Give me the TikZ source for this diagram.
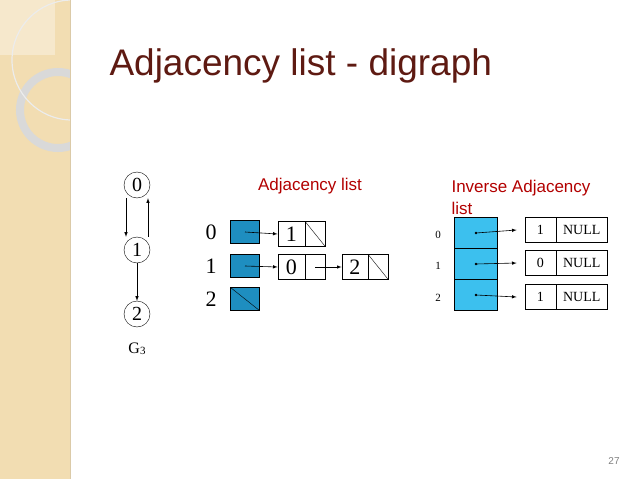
\documentclass[tikz,border=0pt]{standalone}
\usepackage{fontspec}
\setmainfont{Liberation Serif}
\newfontfamily\sansf{Liberation Sans}
\begin{document}
\begin{tikzpicture}[x=1pt,y=-1pt,
  vert/.style={draw,circle,minimum size=26pt,inner sep=0pt,font=\fontsize{20}{20}\selectfont},
  sq/.style={draw,fill=blue1,minimum width=29pt,minimum height=23pt,inner sep=0},
  cell/.style={draw,minimum height=25pt,inner sep=0,font=\fontsize{22}{22}\selectfont},
  icell/.style={draw,minimum height=25pt,inner sep=0,font=\fontsize{14}{14}\selectfont},
  lab/.style={font=\fontsize{22}{22}\selectfont},
  ilab/.style={font=\fontsize{11}{11}\selectfont},
  arr/.style={-latex,line width=0.6pt},
  red/.style={font=\sansf\fontsize{17}{17}\selectfont,text=red!70!black}]
\definecolor{blue1}{HTML}{1E8EC0}
\definecolor{blue2}{HTML}{3CC0EE}
\definecolor{tan}{HTML}{F2DDB2}
\definecolor{ttl}{HTML}{5E1A12}
\useasboundingbox (0,0) rectangle (638,479);
\fill[tan] (0,0) rectangle (70,479);
\begin{scope}
\clip (0,0) rectangle (70,479);
\fill[white,opacity=0.35] (0,0) rectangle (55,55);
\draw[gray!30,line width=8pt] (58,110) circle (38);
\draw[white!85!gray,line width=1.2pt] (72,60) circle (60);
\end{scope}
\draw[tan!80!gray,line width=0.8pt] (70,0) -- (70,479);
\node[anchor=base west,font=\sansf\fontsize{37}{37}\selectfont,text=ttl] (title) at (106,75) {Adjacency list - digraph};
% graph
\node[vert] (v0) at (137,185) {0};
\node[vert] (v1) at (137,250) {1};
\node[vert] (v2) at (137,314) {2};
\node[font=\fontsize{16}{16}\selectfont] (g) at (137,349) {G\raisebox{-0.2ex}{\fontsize{11}{11}\selectfont 3}};
\draw[arr] ([xshift=-11pt]v0.south) -- ([xshift=-11pt]v1.north);
\draw[arr] ([xshift=11pt]v1.north) -- ([xshift=11pt]v0.south);
\draw[arr] (v1) -- (v2);
% adjacency list
\node[red] (t1) at (310,186) {Adjacency list};
\node[lab] (l0) at (211,232) {0};
\node[lab] (l1) at (211,266) {1};
\node[lab] (l2) at (211,299) {2};
\node[sq] (s0) at (245,232) {};
\node[sq] (s1) at (245,266) {};
\node[sq] (s2) at (245,299) {};
\draw (s2.north west) -- (s2.south east);
\node[cell,minimum width=27pt,anchor=east] (a0) at (305,234) {1};
\node[cell,minimum width=20pt,anchor=west] (a0n) at (305,234) {};
\draw (a0n.north west) -- (a0n.south east);
\node[cell,minimum width=27pt,anchor=east] (a1) at (305,267) {0};
\node[cell,minimum width=20pt,anchor=west] (a1n) at (305,267) {};
\node[cell,minimum width=26pt,anchor=east] (b1) at (368,267) {2};
\node[cell,minimum width=20pt,anchor=west] (b1n) at (368,267) {};
\draw (b1n.north west) -- (b1n.south east);
\draw[arr] (s0.center) -- (a0.west);
\draw[arr] (s1.center) -- (a1.west);
\draw[arr] (a1n.center) -- (b1.west);
% inverse
\node[red,anchor=base west] (t2) at (448,192) {Inverse Adjacency};
\node[red,anchor=base west] (t3) at (448,214) {list};
\node[draw,fill=blue2,minimum width=43pt,minimum height=31pt,inner sep=0] (c0) at (476,233) {};
\node[draw,fill=blue2,minimum width=43pt,minimum height=31pt,inner sep=0] (c1) at (476,264) {};
\node[draw,fill=blue2,minimum width=43pt,minimum height=31pt,inner sep=0] (c2) at (476,295) {};
\node[ilab] (i0) at (438,235) {0};
\node[ilab] (i1) at (438,266) {1};
\node[ilab] (i2) at (438,298) {2};
\foreach \i/\y/\v in {0/230/1,1/263/0,2/297/1}{
  \node[icell,minimum width=31pt,anchor=east] (n\i) at (556,\y) {\v};
  \node[icell,minimum width=51pt,anchor=west] (m\i) at (556,\y) {NULL};
  \fill (c\i.center) circle (1.3pt);
  \draw[arr] (c\i.center) -- ([xshift=-8pt]n\i.west);
}
\node[font=\sansf\fontsize{10}{10}\selectfont,text=gray] (pg) at (614,461) {27};
\end{tikzpicture}
\end{document}
